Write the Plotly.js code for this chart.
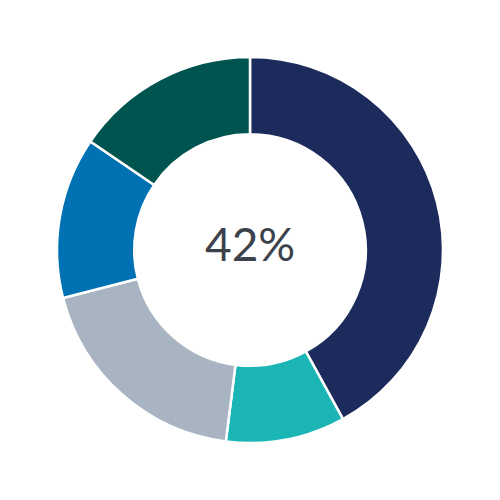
<!DOCTYPE html>
<html>
<head>
<meta charset="utf-8">
<script src="https://cdn.plot.ly/plotly-3.0.1.min.js"></script>
<style>
  html, body { margin: 0; padding: 0; background: #fff; }
  #chart { width: 500px; height: 500px; }
</style>
</head>
<body>
<div id="chart"></div>
<script>
// slice shares, clockwise from 12 o'clock
var labels = ['A', 'B', 'C', 'D', 'E'];
var shares = [42, 10, 19, 13.5, 15.5];
var colors = ['#1c2b5b', '#1cb5b6', '#a9b4c2', '#0072b4', '#00544f'];
var centerText = '42%';

var data = [{
    type: 'pie',
    labels: labels,
    values: shares,
    hole: 0.6,
    sort: false,
    direction: 'clockwise',
    rotation: 0,
    textinfo: 'none',
    hoverinfo: 'none',
    marker: { colors: colors, line: { color: '#ffffff', width: 2.5 } }
}];

var layout = {
    width: 500,
    height: 500,
    margin: { l: 57, r: 57, t: 57, b: 57 },
    showlegend: false,
    paper_bgcolor: '#ffffff',
    annotations: [{
        text: centerText,
        x: 0.5, y: 0.5, xref: 'paper', yref: 'paper',
        yshift: 7,
        showarrow: false,
        font: { family: 'Lato', size: 46, color: '#3b424c', weight: 400 }
    }]
};

Plotly.newPlot('chart', data, layout, { staticPlot: true });
</script>
</body>
</html>
